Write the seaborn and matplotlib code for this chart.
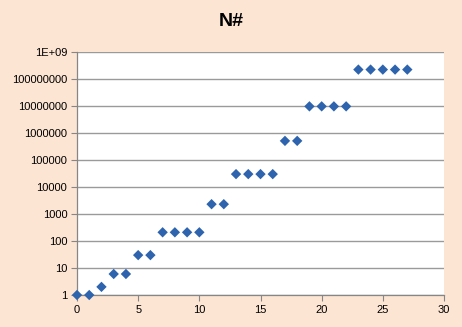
import matplotlib
matplotlib.use("Agg")
import matplotlib.pyplot as plt
import matplotlib.ticker as mticker
import seaborn as sns
import pandas as pd

n_values = list(range(0, 28))
primorial = [1, 1, 2, 6, 6, 30, 30, 210, 210, 210, 210, 2310, 2310,
             30030, 30030, 30030, 30030, 510510, 510510,
             9699690, 9699690, 9699690, 9699690,
             223092870, 223092870, 223092870, 223092870, 223092870]
y_tick_values = [1, 10, 100, 1000, 10000, 100000, 1000000, 10000000, 100000000, 1000000000]
y_tick_labels = ["1", "10", "100", "1000", "10000", "100000", "1000000", "10000000", "100000000", "1E+09"]
x_tick_values = [0, 5, 10, 15, 20, 25, 30]
title = "N#"

df = pd.DataFrame({"n": n_values, "value": primorial})

sns.set_style("white")
plt.rcParams['font.family'] = ['Liberation Sans', 'DejaVu Sans']

bg = "#FDE5D3"
fig = plt.figure(figsize=(4.62, 3.27), dpi=100, facecolor=bg)
ax = fig.add_axes([77/462, 1-295/327, (444-77)/462, (295-52)/327])
ax.set_facecolor("white")

sns.scatterplot(data=df, x="n", y="value", marker="D", s=28, color="#2E64AE",
                edgecolor="none", ax=ax, zorder=3, clip_on=False)

ax.set_yscale("log")
ax.set_ylim(1, 1e9)
ax.set_xlim(0, 30)
ax.yaxis.set_major_locator(mticker.FixedLocator(y_tick_values))
ax.yaxis.set_minor_locator(mticker.NullLocator())
ax.set_yticks(y_tick_values)
ax.set_yticklabels(y_tick_labels)
ax.set_xticks(x_tick_values)
ax.set_xticklabels([str(v) for v in x_tick_values])
ax.set_xlabel("")
ax.set_ylabel("")

ax.grid(axis="y", color="#9A9A9A", linewidth=1.0)
ax.grid(axis="x", visible=False)
ax.set_axisbelow(True)
for side in ["top", "right"]:
    ax.spines[side].set_visible(False)
for side in ["left", "bottom"]:
    ax.spines[side].set_color("#868686")
    ax.spines[side].set_linewidth(0.9)

ax.tick_params(axis="both", which="major", direction="out", length=4, width=0.8,
               color="#868686", labelsize=8, labelcolor="black", pad=3,
               left=True, bottom=True)

fig.text(231/462, 1-22/327, title, ha="center", va="center", fontsize=14,
         fontweight="bold", color="black")

fig.savefig("out.png", dpi=100, facecolor=bg)
